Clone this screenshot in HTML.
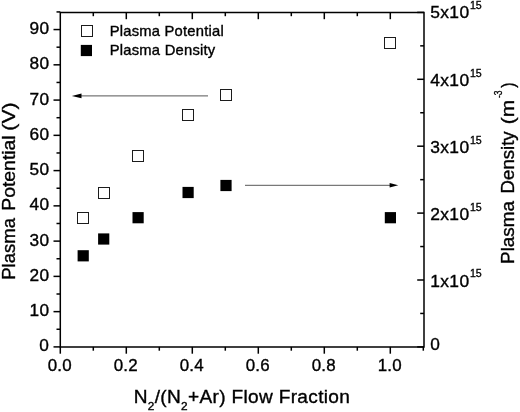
<!DOCTYPE html><html><head><meta charset="utf-8"><title>Plasma</title>
<style>html,body{margin:0;padding:0;background:#fff}svg{display:block}text{font-family:"Liberation Sans",Arial,sans-serif;fill:#000;stroke:#000;stroke-width:0.35px}</style></head><body>
<svg width="520" height="412" viewBox="0 0 520 412">
<rect width="520" height="412" fill="#fff"/>
<defs><filter id="soft" x="0" y="0" width="520" height="412" filterUnits="userSpaceOnUse"><feGaussianBlur stdDeviation="0.4"/></filter></defs>
<g filter="url(#soft)">
<g stroke="#000" stroke-width="1.5" fill="none" stroke-linecap="butt">
<path d="M60.3 12.4 H424.0 V346.9 H60.3 Z"/>
<path d="M53.50 346.90 H60.3"/>
<path d="M56.50 329.27 H60.3"/>
<path d="M53.50 311.64 H60.3"/>
<path d="M56.50 294.01 H60.3"/>
<path d="M53.50 276.38 H60.3"/>
<path d="M56.50 258.75 H60.3"/>
<path d="M53.50 241.12 H60.3"/>
<path d="M56.50 223.49 H60.3"/>
<path d="M53.50 205.86 H60.3"/>
<path d="M56.50 188.23 H60.3"/>
<path d="M53.50 170.60 H60.3"/>
<path d="M56.50 152.97 H60.3"/>
<path d="M53.50 135.34 H60.3"/>
<path d="M56.50 117.71 H60.3"/>
<path d="M53.50 100.08 H60.3"/>
<path d="M56.50 82.45 H60.3"/>
<path d="M53.50 64.82 H60.3"/>
<path d="M56.50 47.19 H60.3"/>
<path d="M53.50 29.56 H60.3"/>
<path d="M56.50 11.93 H60.3"/>
<path d="M60.30 346.9 V353.70"/>
<path d="M93.30 346.9 V350.70"/>
<path d="M93.30 12.4 V16.20"/>
<path d="M126.30 346.9 V353.70"/>
<path d="M126.30 12.4 V19.20"/>
<path d="M159.30 346.9 V350.70"/>
<path d="M159.30 12.4 V16.20"/>
<path d="M192.30 346.9 V353.70"/>
<path d="M192.30 12.4 V19.20"/>
<path d="M225.30 346.9 V350.70"/>
<path d="M225.30 12.4 V16.20"/>
<path d="M258.30 346.9 V353.70"/>
<path d="M258.30 12.4 V19.20"/>
<path d="M291.30 346.9 V350.70"/>
<path d="M291.30 12.4 V16.20"/>
<path d="M324.30 346.9 V353.70"/>
<path d="M324.30 12.4 V19.20"/>
<path d="M357.30 346.9 V350.70"/>
<path d="M357.30 12.4 V16.20"/>
<path d="M390.30 346.9 V353.70"/>
<path d="M390.30 12.4 V19.20"/>
<path d="M423.30 346.9 V350.70"/>
<path d="M417.20 346.90 H424.0"/>
<path d="M420.20 313.45 H424.0"/>
<path d="M417.20 280.00 H424.0"/>
<path d="M420.20 246.55 H424.0"/>
<path d="M417.20 213.10 H424.0"/>
<path d="M420.20 179.65 H424.0"/>
<path d="M417.20 146.20 H424.0"/>
<path d="M420.20 112.75 H424.0"/>
<path d="M417.20 79.30 H424.0"/>
<path d="M420.20 45.85 H424.0"/>
<path d="M417.20 12.40 H424.0"/>
</g>
<text transform="translate(39.27 351.00) scale(1.0455 1)" font-size="16.5" textLength="9.40" lengthAdjust="spacing">0</text>
<text transform="translate(29.46 316.24) scale(1.0455 1)" font-size="16.5" textLength="18.79" lengthAdjust="spacing">10</text>
<text transform="translate(29.46 280.98) scale(1.0455 1)" font-size="16.5" textLength="18.79" lengthAdjust="spacing">20</text>
<text transform="translate(29.46 245.72) scale(1.0455 1)" font-size="16.5" textLength="18.79" lengthAdjust="spacing">30</text>
<text transform="translate(29.46 210.46) scale(1.0455 1)" font-size="16.5" textLength="18.79" lengthAdjust="spacing">40</text>
<text transform="translate(29.46 175.20) scale(1.0455 1)" font-size="16.5" textLength="18.79" lengthAdjust="spacing">50</text>
<text transform="translate(29.46 139.94) scale(1.0455 1)" font-size="16.5" textLength="18.79" lengthAdjust="spacing">60</text>
<text transform="translate(29.46 104.68) scale(1.0455 1)" font-size="16.5" textLength="18.79" lengthAdjust="spacing">70</text>
<text transform="translate(29.46 69.42) scale(1.0455 1)" font-size="16.5" textLength="18.79" lengthAdjust="spacing">80</text>
<text transform="translate(29.46 34.16) scale(1.0455 1)" font-size="16.5" textLength="18.79" lengthAdjust="spacing">90</text>
<text transform="translate(47.77 371.00) scale(1.0260 1)" font-size="16.5" textLength="23.25" lengthAdjust="spacing">0.0</text>
<text transform="translate(113.77 371.00) scale(1.0260 1)" font-size="16.5" textLength="23.25" lengthAdjust="spacing">0.2</text>
<text transform="translate(179.77 371.00) scale(1.0260 1)" font-size="16.5" textLength="23.25" lengthAdjust="spacing">0.4</text>
<text transform="translate(245.77 371.00) scale(1.0260 1)" font-size="16.5" textLength="23.25" lengthAdjust="spacing">0.6</text>
<text transform="translate(311.77 371.00) scale(1.0260 1)" font-size="16.5" textLength="23.25" lengthAdjust="spacing">0.8</text>
<text transform="translate(377.77 371.00) scale(1.0260 1)" font-size="16.5" textLength="23.25" lengthAdjust="spacing">1.0</text>
<text transform="translate(430.20 349.80) scale(1.0455 1)" font-size="16.5" textLength="9.40" lengthAdjust="spacing">0</text>
<text transform="translate(430.20 286.50) scale(1.0572 1)" font-size="16.5" textLength="36.82" lengthAdjust="spacing">1x10</text>
<text transform="translate(470.10 277.40) scale(0.9805 1)" font-size="10.8" textLength="11.89" lengthAdjust="spacing">15</text>
<text transform="translate(430.20 219.60) scale(1.0572 1)" font-size="16.5" textLength="36.82" lengthAdjust="spacing">2x10</text>
<text transform="translate(470.10 210.50) scale(0.9805 1)" font-size="10.8" textLength="11.89" lengthAdjust="spacing">15</text>
<text transform="translate(430.20 152.70) scale(1.0572 1)" font-size="16.5" textLength="36.82" lengthAdjust="spacing">3x10</text>
<text transform="translate(470.10 143.60) scale(0.9805 1)" font-size="10.8" textLength="11.89" lengthAdjust="spacing">15</text>
<text transform="translate(430.20 85.80) scale(1.0572 1)" font-size="16.5" textLength="36.82" lengthAdjust="spacing">4x10</text>
<text transform="translate(470.10 76.70) scale(0.9805 1)" font-size="10.8" textLength="11.89" lengthAdjust="spacing">15</text>
<text transform="translate(430.20 18.20) scale(1.0572 1)" font-size="16.5" textLength="36.82" lengthAdjust="spacing">5x10</text>
<text transform="translate(470.10 9.10) scale(0.9805 1)" font-size="10.8" textLength="11.89" lengthAdjust="spacing">15</text>
<rect x="77.5" y="212.5" width="11" height="11" fill="#fff" stroke="#1a1a1a" stroke-width="1"/>
<rect x="98.5" y="187.5" width="11" height="11" fill="#fff" stroke="#1a1a1a" stroke-width="1"/>
<rect x="132.5" y="150.5" width="11" height="11" fill="#fff" stroke="#1a1a1a" stroke-width="1"/>
<rect x="182.5" y="109.5" width="11" height="11" fill="#fff" stroke="#1a1a1a" stroke-width="1"/>
<rect x="220.5" y="89.5" width="11" height="11" fill="#fff" stroke="#1a1a1a" stroke-width="1"/>
<rect x="384.5" y="37.5" width="11" height="11" fill="#fff" stroke="#1a1a1a" stroke-width="1"/>
<rect x="77.60" y="250.20" width="11.2" height="11.2" fill="#000"/>
<rect x="98.10" y="233.40" width="11.2" height="11.2" fill="#000"/>
<rect x="132.50" y="212.10" width="11.2" height="11.2" fill="#000"/>
<rect x="182.50" y="186.90" width="11.2" height="11.2" fill="#000"/>
<rect x="220.40" y="179.90" width="11.2" height="11.2" fill="#000"/>
<rect x="384.80" y="212.10" width="11.2" height="11.2" fill="#000"/>
<rect x="81.5" y="25.5" width="11" height="11" fill="#fff" stroke="#1a1a1a" stroke-width="1"/>
<rect x="80.80" y="44.90" width="11.2" height="11.2" fill="#000"/>
<text transform="translate(109.70 35.50) scale(1.0553 1)" font-size="14" textLength="108.02" lengthAdjust="spacing">Plasma Potential</text>
<text transform="translate(109.70 55.00) scale(1.0553 1)" font-size="14" textLength="100.01" lengthAdjust="spacing">Plasma Density</text>
<path d="M208 95.9 H80" stroke="#555" stroke-width="1" fill="none"/>
<path d="M71.8 95.9 L81.5 93.6 L81.5 98.2 Z" fill="#000"/>
<path d="M245 185.3 H390" stroke="#555" stroke-width="1" fill="none"/>
<path d="M398.3 185.3 L389.6 183.1 L389.6 187.5 Z" fill="#000"/>
<text transform="translate(15 279.81) rotate(-90) scale(1.0133 1)" font-size="18.3">Plasma</text>
<text transform="translate(15 210.76) rotate(-90) scale(1.0596 1)" font-size="18.3">Potential</text>
<text transform="translate(15 130.66) rotate(-90) scale(1.1579 1)" font-size="18.3">(V)</text>
<text transform="translate(514 263.93) rotate(-90) scale(1.0298 1)" font-size="18.3">Plasma</text>
<text transform="translate(514 193.42) rotate(-90) scale(1.0178 1)" font-size="18.3">Density</text>
<text transform="translate(514 124.34) rotate(-90) scale(1.1450 1)" font-size="18.3">(m</text>
<text transform="translate(501.6 98.00) rotate(-90) scale(0.8139 1)" font-size="10.4">-3</text>
<text transform="translate(514 87.70) rotate(-90) scale(0.8800 1)" font-size="18.3">)</text>
<text transform="translate(133.7 403) scale(1.0723 1)" font-size="17.8" textLength="201.61" lengthAdjust="spacing">N<tspan font-size="11" dy="6.5">2</tspan><tspan dy="-6.5">/(N</tspan><tspan font-size="11" dy="6.5">2</tspan><tspan dy="-6.5">+Ar) Flow Fraction</tspan></text>
</g></svg></body></html>
